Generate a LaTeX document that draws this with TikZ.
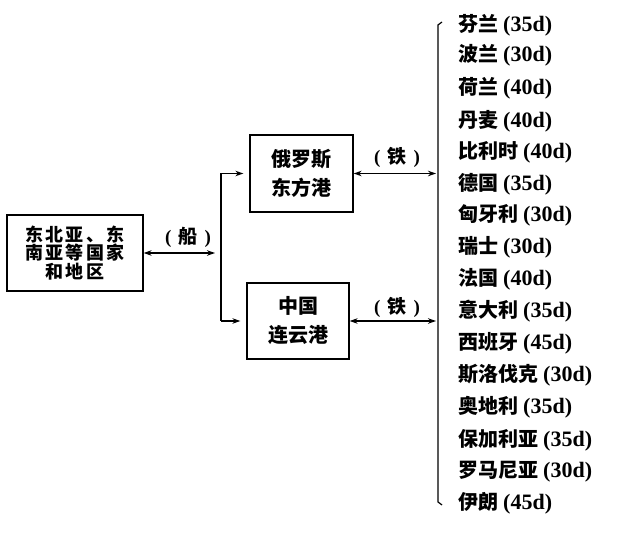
\documentclass[tikz,border=0pt]{standalone}
\usepackage{fontspec}
\setmainfont{Liberation Serif}
\newfontfamily\cjk{Noto Sans CJK SC}
\newfontfamily\cjkwide{Noto Sans CJK SC}[LetterSpace=12]
\usetikzlibrary{arrows.meta}

\newcommand{\route}[2]{{\cjk\bfseries\fontsize{20}{21}\selectfont #1}\hspace{5pt}{\bfseries\fontsize{22}{23}\selectfont(#2d)}}
\newcommand{\mode}[1]{{\bfseries(}\hspace{7pt}{\cjk\bfseries #1}\hspace{7pt}{\bfseries)}}

\tikzset{
	framebox/.style={draw, line width=1.3pt, inner sep=0pt, align=center},
	modelabel/.style={inner sep=0pt, font=\fontsize{19}{20}\selectfont},
	country/.style={inner sep=0pt, anchor=west},
	twoway/.style={line width=1.2pt, {Stealth[length=8pt,width=5.5pt]}-{Stealth[length=8pt,width=5.5pt]}},
	oneway/.style={line width=1.2pt, -{Stealth[length=8pt,width=5.5pt]}}
}

\begin{document}
\begin{tikzpicture}[x=1pt,y=-1pt]
					\useasboundingbox (0,0) rectangle (630,537);

					\node [framebox, minimum width=136pt, minimum height=76pt, font=\cjkwide\bfseries\fontsize{18}{18.5}\selectfont] (asia) at (75,253) {东北亚、东\\南亚等国家\\和地区};
					\node [framebox, minimum width=103pt, minimum height=77pt, font=\cjk\bfseries\fontsize{20}{29}\selectfont] (russia) at (301.5,173.5) {俄罗斯\\东方港};
					\node [framebox, minimum width=102pt, minimum height=76pt, font=\cjk\bfseries\fontsize{20}{29}\selectfont] (china) at (298,321) {中国\\连云港};

					\coordinate (ship) at (215,253);
					\coordinate (forktop) at (221,173.5);
					\coordinate (forkbot) at (221,321);
					\coordinate (rail1) at (436,173.5);
					\coordinate (rail2) at (436,321);

					\draw [twoway] (asia.east) -- (ship);
					\draw [line width=1.2pt] (forktop) -- (forkbot);
					\draw [oneway, shorten >=6pt] (forktop) -- (russia.west);
					\draw [oneway, shorten >=6pt] (forkbot) -- (china.west);
					\draw [twoway] (russia.east) -- (rail1);
					\draw [twoway] (china.east) -- (rail2);

					\node [modelabel] (shiplabel) at (188,237) {\mode{船}};
					\node [modelabel] (raillabel1) at (397,157) {\mode{铁}};
					\node [modelabel] (raillabel2) at (397,307) {\mode{铁}};

					% bracket of the rail destinations
					\draw [line width=1.2pt] (442,22) -- (438,25) -- (438,502) -- (442,505);

					\node [country] (finland) at (458,25) {\route{芬兰}{35}};
					\node [country] (poland) at (458,55) {\route{波兰}{30}};
					\node [country] (netherlands) at (458,88) {\route{荷兰}{40}};
					\node [country] (denmark) at (458,121) {\route{丹麦}{40}};
					\node [country] (belgium) at (458,152) {\route{比利时}{40}};
					\node [country] (germany) at (458,184) {\route{德国}{35}};
					\node [country] (hungary) at (458,215) {\route{匈牙利}{30}};
					\node [country] (swiss) at (458,247) {\route{瑞士}{30}};
					\node [country] (france) at (458,279) {\route{法国}{40}};
					\node [country] (italy) at (458,311) {\route{意大利}{35}};
					\node [country] (spain) at (458,343) {\route{西班牙}{45}};
					\node [country] (slovakia) at (458,375) {\route{斯洛伐克}{30}};
					\node [country] (austria) at (458,407) {\route{奥地利}{35}};
					\node [country] (bulgaria) at (458,440) {\route{保加利亚}{35}};
					\node [country] (romania) at (458,472) {\route{罗马尼亚}{30}};
					\node [country] (iran) at (458,503) {\route{伊朗}{45}};

				\end{tikzpicture}
\end{document}
